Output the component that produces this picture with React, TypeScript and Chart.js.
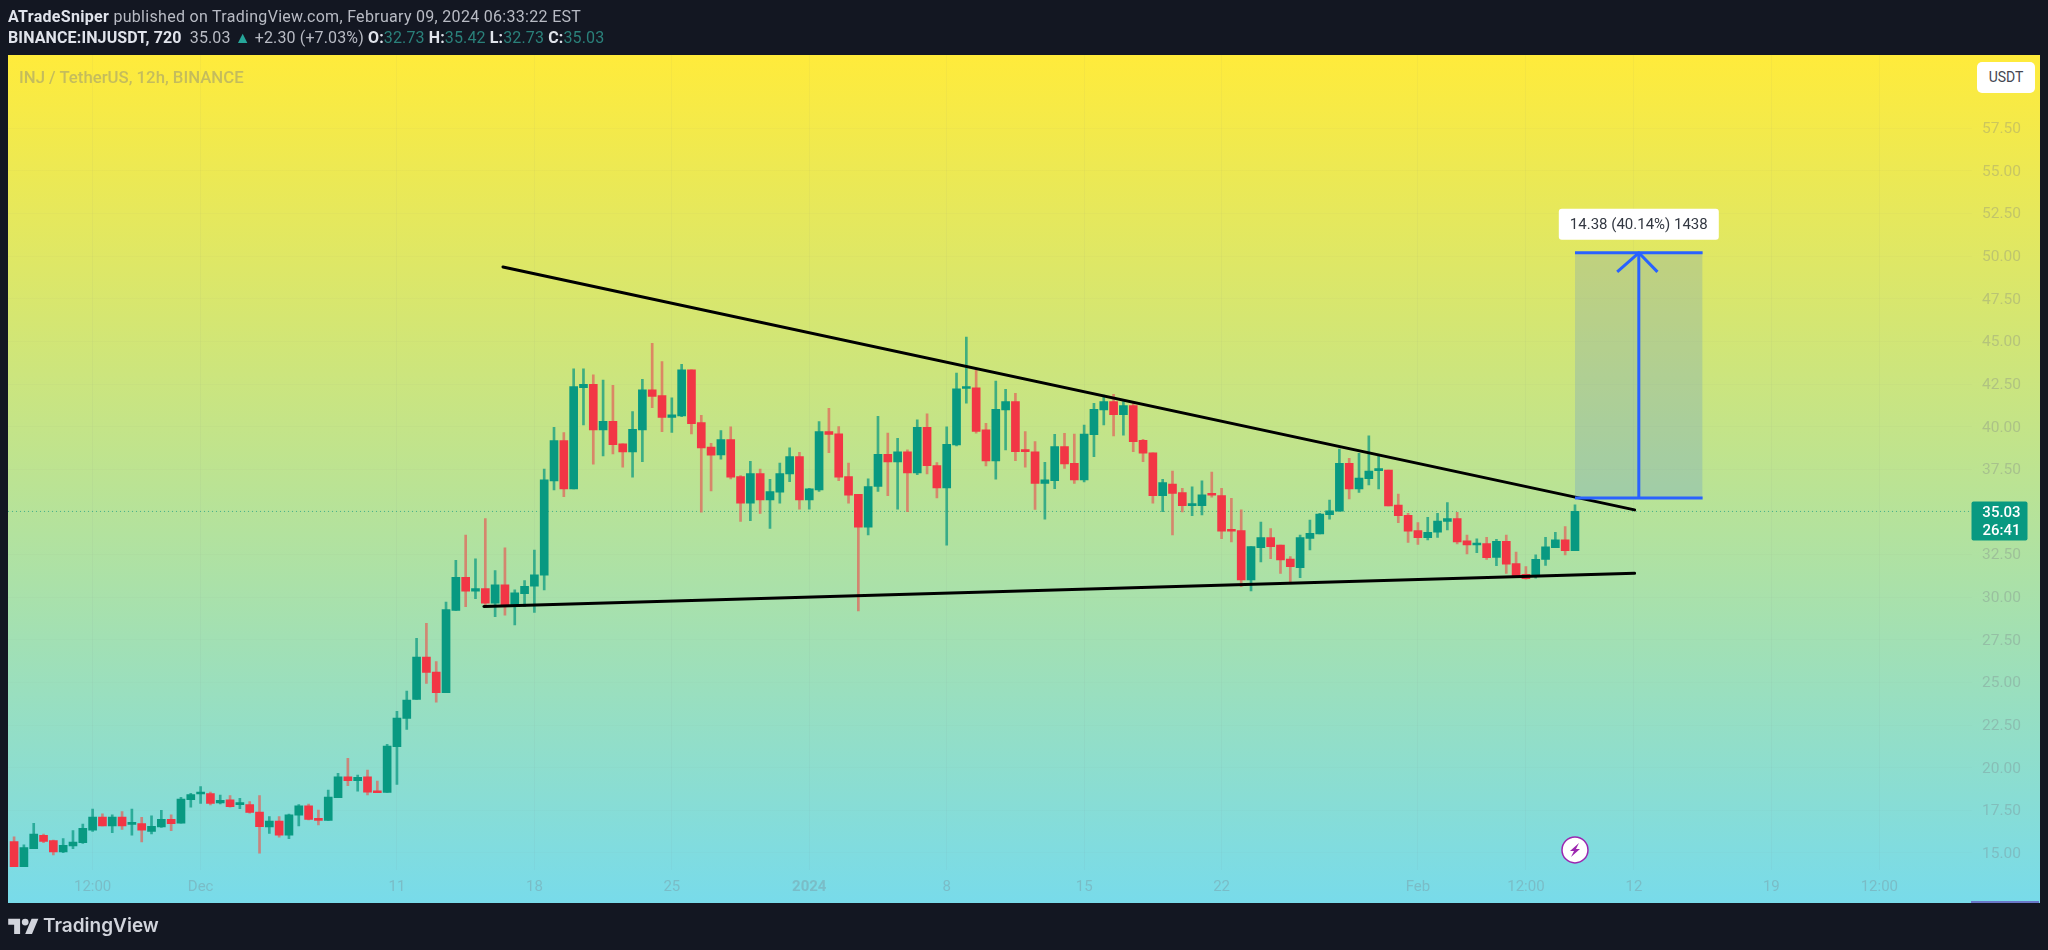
import { useEffect, useRef } from 'react';
import { Chart, registerables } from 'chart.js';

Chart.register(...registerables);

const opens = [
  15.66, 14.19, 15.25, 16.03, 15.72, 15.06, 15.41, 15.60, 16.33, 17.11,
  16.58, 17.11, 16.68, 16.72, 16.27, 16.52, 16.97, 16.74, 18.12, 18.46,
  18.48, 17.93, 18.11, 17.83, 17.83, 17.40, 16.52, 16.87, 16.05, 17.21,
  17.77, 16.97, 16.91, 18.24, 19.47, 19.24, 19.47, 18.59, 18.55, 21.23,
  22.89, 24.01, 26.49, 25.61, 24.40, 29.23, 31.17, 30.35, 30.51, 29.65,
  30.72, 29.49, 30.21, 30.64, 31.29, 36.82, 39.19, 36.35, 42.29, 42.49,
  39.81, 40.32, 38.99, 38.52, 39.81, 42.16, 41.83, 40.54, 40.63, 43.33,
  40.24, 38.80, 38.35, 39.25, 37.08, 35.51, 37.25, 35.71, 36.16, 37.23,
  38.25, 35.71, 36.29, 39.71, 39.58, 37.08, 36.04, 34.10, 36.49, 38.38,
  37.94, 38.52, 37.29, 39.97, 37.72, 36.41, 38.93, 42.24, 42.28, 39.81,
  37.99, 40.98, 41.47, 38.60, 38.52, 36.68, 36.84, 38.83, 37.85, 36.88,
  39.53, 40.98, 41.47, 40.71, 41.24, 39.20, 38.46, 35.96, 36.64, 36.13,
  35.37, 35.37, 36.03, 35.96, 33.92, 33.90, 31.01, 32.91, 33.49, 33.06,
  32.24, 31.73, 33.45, 33.71, 34.84, 35.04, 37.85, 36.35, 36.95, 37.42,
  37.46, 35.41, 34.80, 33.90, 33.49, 33.81, 34.45, 34.61, 33.30, 33.06,
  33.14, 32.34, 33.28, 31.97, 31.34, 31.21, 32.22, 32.91, 33.36, 32.73,
];
const highs = [
  15.95, 15.47, 16.74, 16.11, 15.76, 15.84, 16.31, 16.70, 17.58, 17.30,
  17.24, 17.42, 17.58, 17.09, 17.17, 17.50, 17.23, 18.26, 18.50, 18.89,
  18.57, 18.40, 18.36, 18.20, 18.01, 18.36, 17.13, 17.13, 17.28, 17.83,
  17.87, 17.52, 18.69, 19.67, 20.55, 19.57, 19.86, 19.22, 21.37, 23.31,
  24.50, 27.59, 28.47, 26.22, 29.72, 32.16, 33.65, 32.25, 34.61, 31.56,
  32.89, 30.43, 30.98, 32.77, 37.52, 39.97, 39.66, 43.39, 43.39, 43.04,
  42.74, 42.43, 38.99, 40.89, 42.78, 44.89, 43.82, 41.69, 43.66, 43.33,
  40.67, 39.03, 39.77, 39.99, 37.13, 37.97, 37.52, 36.92, 37.86, 38.76,
  38.50, 36.39, 40.30, 41.08, 40.01, 37.86, 36.04, 36.94, 40.61, 39.62,
  39.32, 38.64, 40.40, 40.75, 37.90, 39.99, 43.14, 45.25, 43.33, 40.20,
  42.67, 42.19, 41.96, 39.71, 39.12, 37.91, 39.55, 39.61, 39.57, 40.10,
  41.37, 41.86, 41.90, 41.47, 41.47, 39.26, 38.46, 36.91, 37.40, 36.39,
  36.48, 36.82, 37.34, 36.39, 35.80, 35.12, 32.97, 34.41, 34.02, 33.06,
  32.38, 33.65, 34.53, 34.92, 35.70, 38.69, 38.15, 38.44, 39.46, 38.34,
  37.46, 36.05, 34.92, 34.37, 34.69, 34.92, 35.55, 34.98, 33.65, 33.43,
  33.51, 33.40, 33.65, 32.65, 31.79, 32.48, 33.51, 33.81, 34.14, 35.42,
];
const lows = [
  14.19, 14.19, 15.25, 15.60, 14.88, 15.02, 15.25, 15.56, 16.27, 16.58,
  16.19, 16.38, 16.05, 15.64, 16.11, 16.50, 16.31, 16.74, 17.69, 17.91,
  17.81, 17.87, 17.69, 17.60, 17.34, 14.98, 16.15, 15.92, 15.84, 16.58,
  16.93, 16.64, 16.91, 18.24, 18.95, 18.63, 18.40, 18.53, 18.55, 19.02,
  22.25, 24.01, 24.95, 23.85, 24.40, 29.23, 29.45, 29.92, 29.49, 28.86,
  28.94, 28.38, 29.45, 29.10, 30.43, 36.29, 35.90, 36.35, 40.10, 37.80,
  38.29, 38.40, 37.62, 37.04, 37.95, 41.12, 39.71, 39.66, 40.59, 39.58,
  34.98, 36.23, 38.09, 36.94, 34.44, 34.49, 34.92, 34.04, 35.51, 36.78,
  35.16, 35.16, 36.20, 38.48, 36.84, 35.51, 29.20, 33.65, 36.20, 35.96,
  35.16, 35.02, 37.19, 37.23, 35.82, 33.05, 38.87, 41.38, 39.62, 37.70,
  36.92, 38.64, 38.01, 37.62, 35.15, 34.57, 36.37, 37.56, 36.68, 36.76,
  38.24, 40.10, 39.46, 39.51, 38.54, 37.95, 35.51, 35.02, 33.65, 35.00,
  34.78, 34.82, 35.86, 33.43, 33.24, 30.62, 30.37, 32.07, 32.26, 31.40,
  30.81, 31.15, 32.77, 33.71, 34.57, 35.04, 35.76, 36.15, 36.58, 36.35,
  35.35, 34.37, 33.22, 33.10, 33.36, 33.51, 33.94, 33.12, 32.54, 32.61,
  32.22, 31.85, 31.40, 31.21, 31.05, 31.11, 31.87, 32.91, 32.48, 32.73,
];
const closes = [
  14.19, 15.31, 16.11, 15.68, 15.06, 15.45, 15.64, 16.44, 17.11, 16.58,
  17.11, 16.58, 16.72, 16.33, 16.56, 16.97, 16.72, 18.16, 18.42, 18.50,
  17.91, 18.09, 17.71, 17.87, 17.38, 16.54, 16.87, 16.05, 17.24, 17.77,
  16.97, 16.91, 18.28, 19.47, 19.24, 19.43, 18.57, 18.53, 21.27, 22.91,
  23.97, 26.49, 25.59, 24.40, 29.27, 31.16, 30.35, 30.51, 29.65, 30.72,
  29.49, 30.25, 30.64, 31.31, 36.88, 39.19, 36.35, 42.35, 42.49, 39.81,
  40.32, 38.95, 38.52, 39.85, 42.16, 41.77, 40.54, 40.69, 43.33, 40.18,
  38.76, 38.33, 39.25, 37.04, 35.51, 37.25, 35.71, 36.20, 37.25, 38.25,
  35.71, 36.35, 39.71, 39.54, 37.04, 35.98, 34.10, 36.49, 38.38, 37.94,
  38.52, 37.29, 39.97, 37.72, 36.41, 38.97, 42.22, 42.28, 39.73, 37.99,
  41.02, 41.47, 38.54, 38.54, 36.68, 36.88, 38.83, 37.81, 36.88, 39.57,
  41.02, 41.47, 40.71, 41.24, 39.12, 38.44, 35.96, 36.72, 36.09, 35.37,
  35.41, 36.00, 35.98, 33.87, 33.87, 31.01, 32.97, 33.49, 32.97, 32.18,
  31.79, 33.49, 33.75, 34.88, 35.06, 37.85, 36.35, 36.99, 37.40, 37.46,
  35.35, 34.78, 33.87, 33.49, 33.81, 34.47, 34.61, 33.24, 33.06, 33.14,
  32.32, 33.28, 31.93, 31.26, 31.09, 32.22, 32.95, 33.36, 32.73, 35.03,
];

const priceTicks = [15, 17.5, 20, 22.5, 25, 27.5, 30, 32.5, 35, 37.5, 40, 42.5, 45, 47.5, 50, 52.5, 55, 57.5];
const timeTicks = [8, 19, 39, 53, 67, 81, 95, 109, 123, 143, 154, 165, 179, 190];
const timeLabels = ['12:00', 'Dec', '11', '18', '25', '2024', '8', '15', '22', 'Feb', '12:00', '12', '19', '12:00'];

const upperTrend = [{ x: 49.8, y: 49.37 }, { x: 165.07, y: 35.12 }];
const lowerTrend = [{ x: 47.86, y: 29.46 }, { x: 165.07, y: 31.4 }];
const measureFrom = 159;
const measureTo = 172;
const measureMid = 165.5;
const measureLow = 35.82;
const measureHigh = 50.2;
const arrowHead = [{ x: 163.3, y: 49.08 }, { x: measureMid, y: measureHigh }, { x: 167.4, y: 49.08 }];
const lastPrice = 35.03;
const flashPoint = { x: 159, y: 15.18 };

const GREEN = '#089981';
const RED = '#f23645';
const BLUE = '#2962ff';
const AXIS_TEXT = 'rgba(120,123,134,0.32)';
const FONT = 'Roboto';

const xMin = -0.62;
const xMax = 199.39;
const yMin = 14;
const yMax = 61.8;

// background, label box, price tag and the flash icon
const paintPlugin = {
  id: 'paint',
  beforeDraw(chart: any) {
    const { ctx } = chart;
    const grad = ctx.createLinearGradient(0, 55, 0, 903);
    grad.addColorStop(0, '#ffeb3b');
    grad.addColorStop(1, '#78dbea');
    ctx.fillStyle = grad;
    ctx.fillRect(8, 55, 2032, 848);
  },
  afterDraw(chart: any) {
    const { ctx, scales } = chart;
    const px = (v: number) => scales.x.getPixelForValue(v);
    const py = (v: number) => scales.y.getPixelForValue(v);
    ctx.save();

    // measure label
    const cx = px(measureMid);
    const topY = py(measureHigh);
    ctx.fillStyle = '#ffffff';
    ctx.beginPath();
    ctx.roundRect(cx - 80, topY - 44, 160, 31, 3);
    ctx.fill();
    ctx.fillStyle = '#333842';
    ctx.font = `15px ${FONT}`;
    ctx.textAlign = 'center';
    ctx.textBaseline = 'middle';
    ctx.fillText('14.38 (40.14%) 1438', cx, topY - 28);

    // last price tag
    const tagX = scales.x.right;
    const tagY = py(lastPrice);
    ctx.fillStyle = GREEN;
    ctx.beginPath();
    ctx.roundRect(tagX, tagY - 10, 56, 39, 2);
    ctx.fill();
    ctx.fillStyle = '#ffffff';
    ctx.font = `500 15px ${FONT}`;
    ctx.fillText(lastPrice.toFixed(2), tagX + 30, tagY + 2);
    ctx.fillText('26:41', tagX + 30, tagY + 20);

    // flash icon
    const fx = px(flashPoint.x);
    const fy = py(flashPoint.y);
    ctx.beginPath();
    ctx.arc(fx, fy, 13, 0, Math.PI * 2);
    ctx.fillStyle = '#ffffff';
    ctx.fill();
    ctx.lineWidth = 1.5;
    ctx.strokeStyle = '#9c27b0';
    ctx.stroke();
    ctx.fillStyle = '#9c27b0';
    ctx.beginPath();
    ctx.moveTo(fx + 4, fy - 7);
    ctx.lineTo(fx - 5, fy + 1);
    ctx.lineTo(fx - 1, fy + 1);
    ctx.lineTo(fx - 4, fy + 7);
    ctx.lineTo(fx + 5, fy - 1);
    ctx.lineTo(fx + 1, fy - 1);
    ctx.closePath();
    ctx.fill();
    ctx.restore();
  },
};

export default function App() {
  const canvasRef = useRef<HTMLCanvasElement>(null);

  useEffect(() => {
    const lineBase = { type: 'line', pointRadius: 0, borderJoinStyle: 'round', tension: 0 };
    const chart = new Chart(canvasRef.current as HTMLCanvasElement, {
      type: 'bar',
      data: {
        datasets: [
          {
            ...lineBase,
            data: [{ x: xMin, y: lastPrice }, { x: xMax, y: lastPrice }],
            borderColor: 'rgba(8,153,129,0.65)',
            borderWidth: 1,
            borderDash: [1, 3],
            order: 6,
          },
          {
            data: lows.map((l, i) => ({ x: i, y: [l, highs[i]] })),
            backgroundColor: closes.map((c, i) => (c >= opens[i] ? 'rgba(8,153,129,0.72)' : 'rgba(226,98,90,0.72)')),
            barThickness: 2,
            grouped: false,
            order: 5,
          },
          {
            data: opens.map((o, i) => ({ x: i, y: [o, closes[i]] })),
            backgroundColor: closes.map((c, i) => (c >= opens[i] ? GREEN : RED)),
            barThickness: 8,
            minBarLength: 2,
            grouped: false,
            order: 4,
          },
          {
            ...lineBase,
            data: [{ x: measureFrom, y: measureHigh }, { x: measureTo, y: measureHigh }],
            borderColor: BLUE,
            borderWidth: 3,
            fill: { target: { value: measureLow } },
            backgroundColor: 'rgba(41,98,255,0.17)',
            order: 3,
          },
          {
            ...lineBase,
            data: upperTrend,
            borderColor: '#000000',
            borderWidth: 3,
            borderCapStyle: 'round',
            order: 2,
          },
          {
            ...lineBase,
            data: lowerTrend,
            borderColor: '#000000',
            borderWidth: 3,
            borderCapStyle: 'round',
            order: 2,
          },
          {
            ...lineBase,
            data: [{ x: measureFrom, y: measureLow }, { x: measureTo, y: measureLow }],
            borderColor: BLUE,
            borderWidth: 3,
            order: 1,
          },
          {
            ...lineBase,
            data: [{ x: measureMid, y: measureLow }, { x: measureMid, y: measureHigh }],
            borderColor: BLUE,
            borderWidth: 3,
            order: 1,
          },
          {
            ...lineBase,
            data: arrowHead,
            borderColor: BLUE,
            borderWidth: 3,
            order: 1,
          },
        ] as any,
      },
      options: {
        responsive: false,
        animation: false,
        devicePixelRatio: 1,
        events: [],
        layout: { padding: { left: 8, top: 55, right: 8, bottom: 47 } },
        plugins: { legend: { display: false }, tooltip: { enabled: false } },
        scales: {
          x: {
            type: 'linear',
            min: xMin,
            max: xMax,
            offset: false,
            grid: { color: 'rgba(120,123,134,0.05)', offset: false, drawTicks: false },
            border: { display: false },
            afterFit: (scale: any) => { scale.height = 33; },
            afterBuildTicks: (scale: any) => { scale.ticks = timeTicks.map((value) => ({ value })); },
            ticks: {
              autoSkip: false,
              maxRotation: 0,
              padding: 8,
              color: AXIS_TEXT,
              font: (ctx: any) => ({
                family: FONT,
                size: 15,
                weight: timeLabels[ctx.index] === '2024' ? 'bold' : 'normal',
              }),
              callback: (_v: any, i: number) => timeLabels[i],
            },
          },
          y: {
            position: 'right',
            min: yMin,
            max: yMax,
            grid: { color: 'rgba(120,123,134,0.03)', drawTicks: false },
            border: { display: false },
            afterFit: (scale: any) => { scale.width = 68.5; },
            afterBuildTicks: (scale: any) => { scale.ticks = priceTicks.map((value) => ({ value })); },
            ticks: {
              padding: 10.5,
              labelOffset: 1,
              color: AXIS_TEXT,
              font: { family: FONT, size: 15.5 },
              callback: (v: any) => Number(v).toFixed(2),
            },
          },
        },
      } as any,
      plugins: [paintPlugin],
    });
    return () => chart.destroy();
  }, []);

  const strong = { fontWeight: 700, color: '#e0e3eb' };
  const teal = { color: '#2a807a' };

  return (
    <div style={{ position: 'fixed', inset: 0, background: '#131722', overflow: 'hidden', fontFamily: FONT }}>
      <canvas ref={canvasRef} width={2048} height={950} style={{ position: 'absolute', left: 0, top: 0, width: 2048, height: 950 }} />
      <div style={{ position: 'absolute', left: 8, top: 7, fontSize: 16, letterSpacing: 0.3, lineHeight: '19px', whiteSpace: 'pre', color: '#b8bbc4' }}>
        <span style={strong}>ATradeSniper</span> published on TradingView.com, February 09, 2024 06:33:22 EST
      </div>
      <div style={{ position: 'absolute', left: 8, top: 28, fontSize: 16, letterSpacing: 0.13, lineHeight: '19px', whiteSpace: 'pre', color: '#b8bbc4' }}>
        <span style={strong}>BINANCE:INJUSDT, 720</span>{'  '}35.03 <span style={{ color: '#26a69a' }}>▲</span> +2.30 (+7.03%){' '}
        <span style={strong}>O:</span><span style={teal}>32.73</span>{' '}
        <span style={strong}>H:</span><span style={teal}>35.42</span>{' '}
        <span style={strong}>L:</span><span style={teal}>32.73</span>{' '}
        <span style={strong}>C:</span><span style={teal}>35.03</span>
      </div>
      <div style={{ position: 'absolute', left: 19, top: 67, fontSize: 16.75, lineHeight: '20px', fontWeight: 500, color: 'rgba(120,123,134,0.42)' }}>
        INJ / TetherUS, 12h, BINANCE
      </div>
      <div style={{ position: 'absolute', left: 1977, top: 62, width: 58, height: 31, borderRadius: 5, background: '#fff', color: '#434651', fontSize: 14, lineHeight: '31px', textAlign: 'center' }}>
        USDT
      </div>
      <div style={{ position: 'absolute', left: 1971, top: 901, width: 68, height: 2, background: '#6a77c8' }} />
      <svg style={{ position: 'absolute', left: 8, top: 917 }} width="31" height="17" viewBox="0 2 36 20" fill="#d1d4dc">
        <path d="M14 22H7V11H0V4h14v18zM28 22h-8l7.5-18h8L28 22z" />
        <circle cx="20" cy="8" r="4" />
      </svg>
      <div style={{ position: 'absolute', left: 43, top: 914, fontFamily: 'Inter', fontSize: 19, fontWeight: 600, lineHeight: '24px', color: '#d1d4dc' }}>
        TradingView
      </div>
    </div>
  );
}
